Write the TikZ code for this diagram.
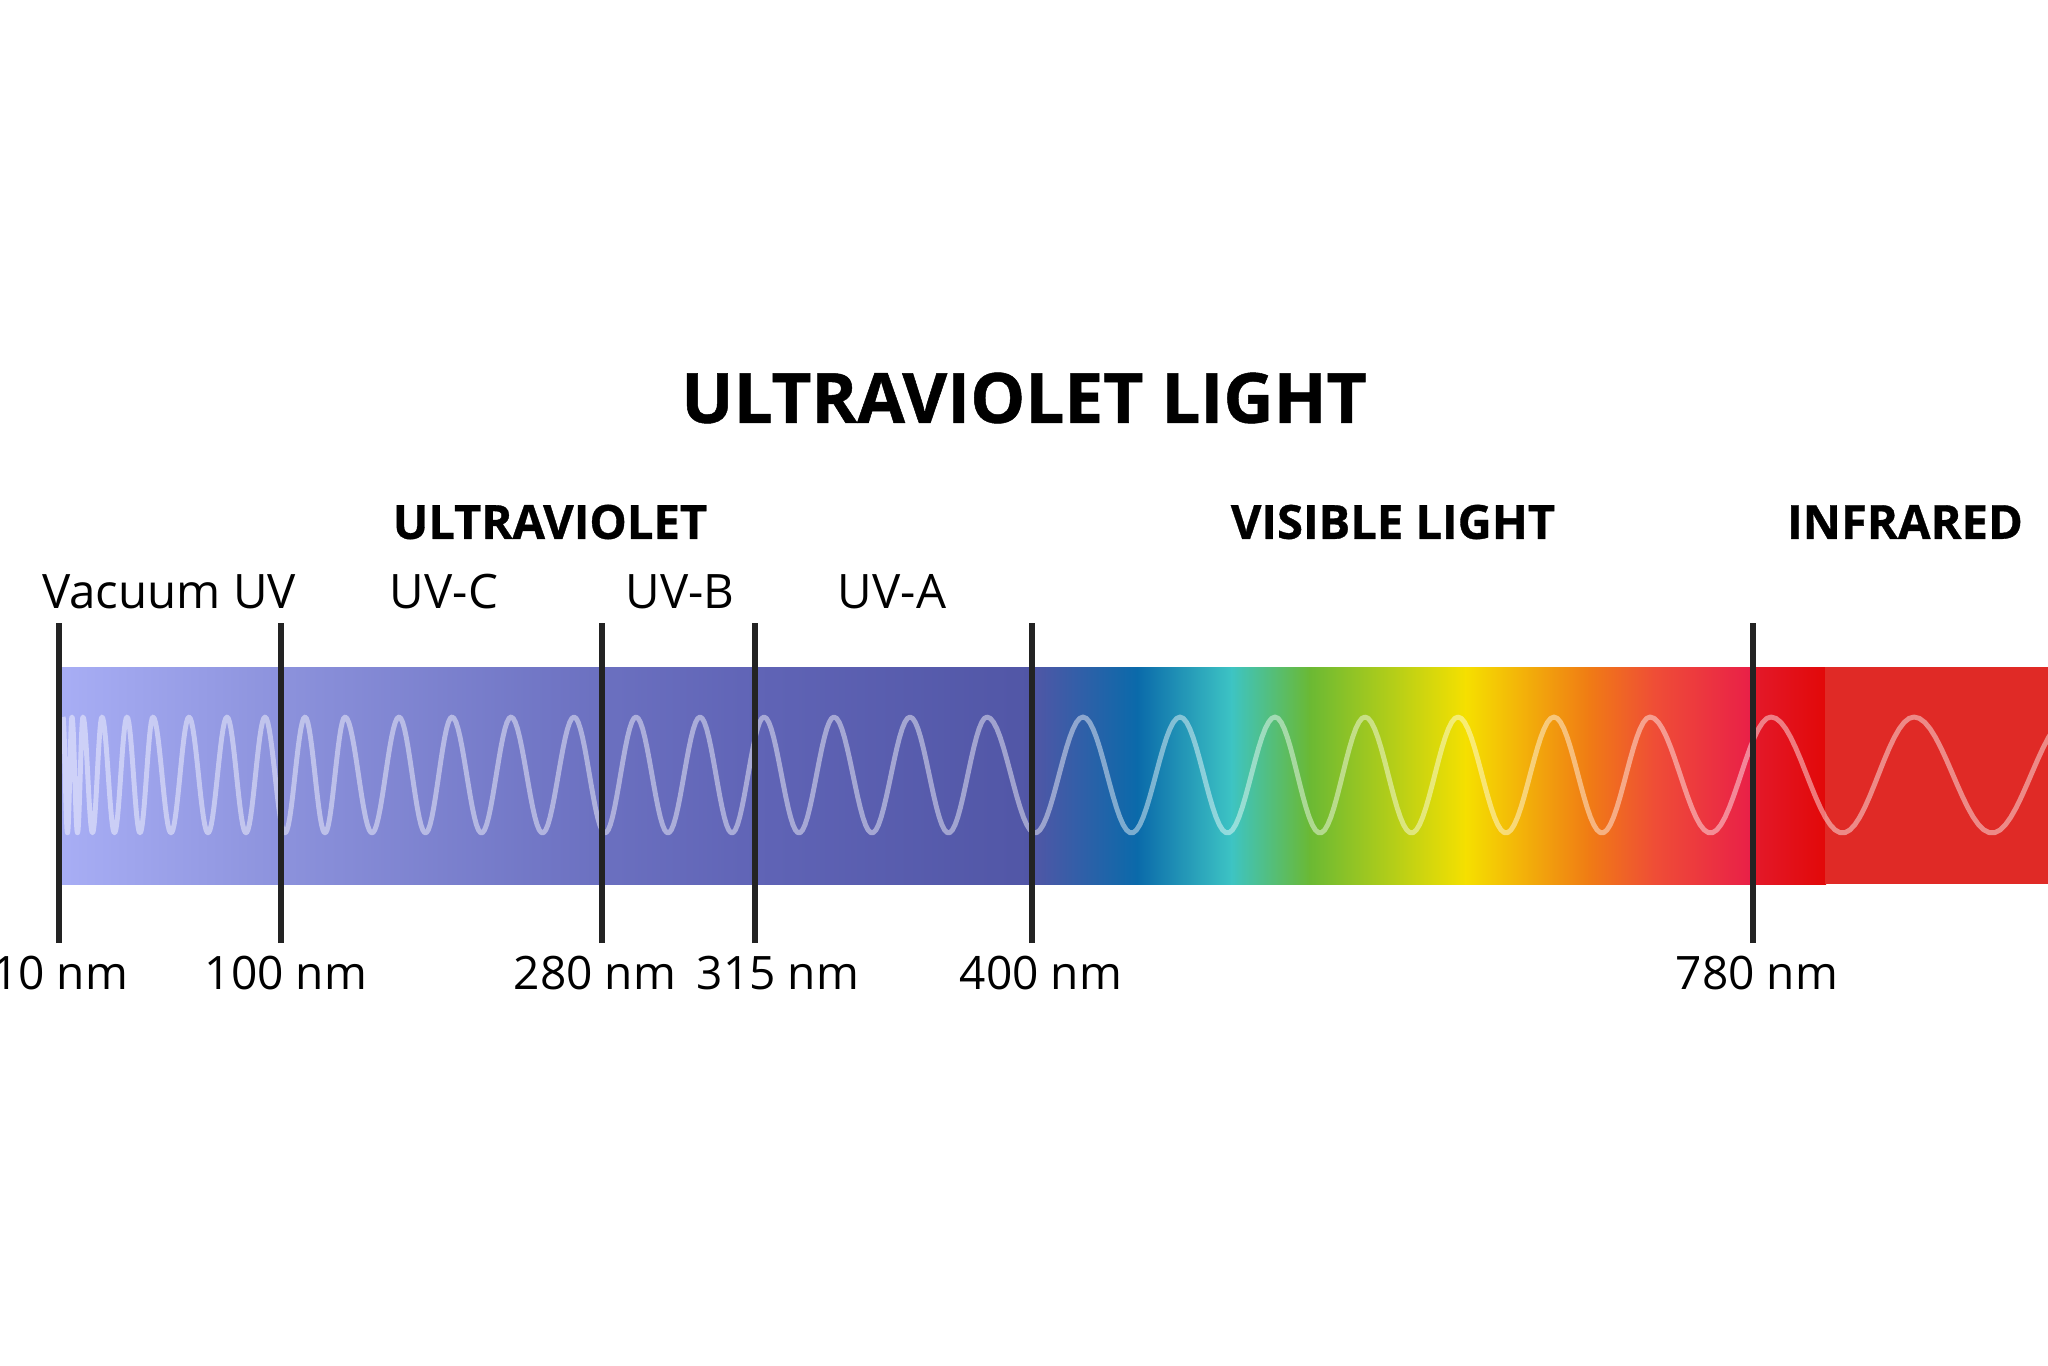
\documentclass[tikz,border=0pt]{standalone}
\usepackage{fontspec}
\setmainfont{Open Sans}[BoldFeatures={FakeBold=0.7}]
\usetikzlibrary{positioning}

\definecolor{divline}{HTML}{232323}
\definecolor{sA}{HTML}{A8AEF5}
\definecolor{sB}{HTML}{8C92DC}
\definecolor{sC}{HTML}{6B70C0}
\definecolor{sD}{HTML}{6064B6}
\definecolor{sE}{HTML}{5156A6}
\definecolor{sF}{HTML}{0A6AAA}
\definecolor{sG}{HTML}{3DC4C4}
\definecolor{sH}{HTML}{6AB934}
\definecolor{sI}{HTML}{F5E000}
\definecolor{sJ}{HTML}{F07C14}
\definecolor{sK}{HTML}{EF4E36}
\definecolor{sL}{HTML}{E91E48}
\definecolor{sM}{HTML}{E3192A}
\definecolor{sN}{HTML}{E20808}
\definecolor{irflat}{HTML}{E02A26}

\begin{document}
\begin{tikzpicture}[
  x=0.01cm, y=0.01cm,
  title/.style = {font=\fontsize{19.7}{24}\selectfont\bfseries, inner sep=0pt},
  group/.style = {font=\fontsize{13.4}{16}\selectfont\bfseries, inner sep=0pt},
  sub/.style = {font=\fontsize{13.5}{16}\selectfont, inner sep=0pt},
  nm/.style = {font=\fontsize{13.1}{16}\selectfont, inner sep=0pt},
  divider/.style = {line width=1.7pt, draw=divline},
  wave/.style = {line width=1.4pt, white, opacity=0.45, line join=round}
]

% Page 2048 x 1365 units, y measured up from the bottom edge
\clip (0,0) rectangle (2048,1365);

% Spectrum band: one shaded piece between two colour stops
\foreach \xa/\ca/\xb/\cb in {59/sA/281/sB, 281/sB/602/sC, 602/sC/755/sD,
    755/sD/1032/sE, 1032/sE/1137/sF, 1137/sF/1231/sG, 1231/sG/1309/sH,
    1309/sH/1465/sI, 1465/sI/1588/sJ, 1588/sJ/1653/sK, 1653/sK/1753/sL,
    1753/sM/1825/sN}
  \shade [left color=\ca, right color=\cb] (\xa,481) rectangle ({\xb+1},698);
\fill [irflat] (1825,481) rectangle (2048,698);

% Wave: one cosine cycle from crest to crest
\draw [wave] (63,648)
  foreach \a/\b in {63/72, 72/83, 83/102, 102/127, 127/153, 153/189,
    189/227, 227/265, 265/305, 305/345, 345/399, 399/452, 452/511,
    511/574, 574/636, 636/700, 700/764, 764/834, 834/910, 910/987,
    987/1083, 1083/1180, 1180/1275, 1275/1365, 1365/1458, 1458/1554,
    1554/1650, 1650/1771, 1771/1914, 1914/2070}
  { -- plot [domain=\a:\b, samples=30] (\x, {590+58*cos(360/(\b-\a)*(\x-\a))}) };

% Dividers
\foreach \xl in {59, 281, 602, 755, 1032, 1753}
  \draw [divider] (\xl,422) -- (\xl,742);

% Title
\node [title] (heading) at (1024,967) {ULTRAVIOLET LIGHT};

% Groups
\node [group] (uv)  at (550,843)  {ULTRAVIOLET};
\node [group] (vis) at (1393,843) {VISIBLE LIGHT};
\node [group] (ir)  at (1905,843) {INFRARED};

% Sub-bands
\node [sub] (vuv) at (169,773) {Vacuum UV};
\node [sub] (uvc) at (444,773) {UV-C};
\node [sub] (uvb) at (680,773) {UV-B};
\node [sub] (uva) at (892,773) {UV-A};

% Wavelengths
\node [nm] (l10)  at (60,392)   {10 nm};
\node [nm] (l100) at (286,392)  {100 nm};
\node [nm] (l280) at (595,392)  {280 nm};
\node [nm] (l315) at (778,392)  {315 nm};
\node [nm] (l400) at (1041,392) {400 nm};
\node [nm] (l780) at (1757,392) {780 nm};

\end{tikzpicture}
\end{document}
